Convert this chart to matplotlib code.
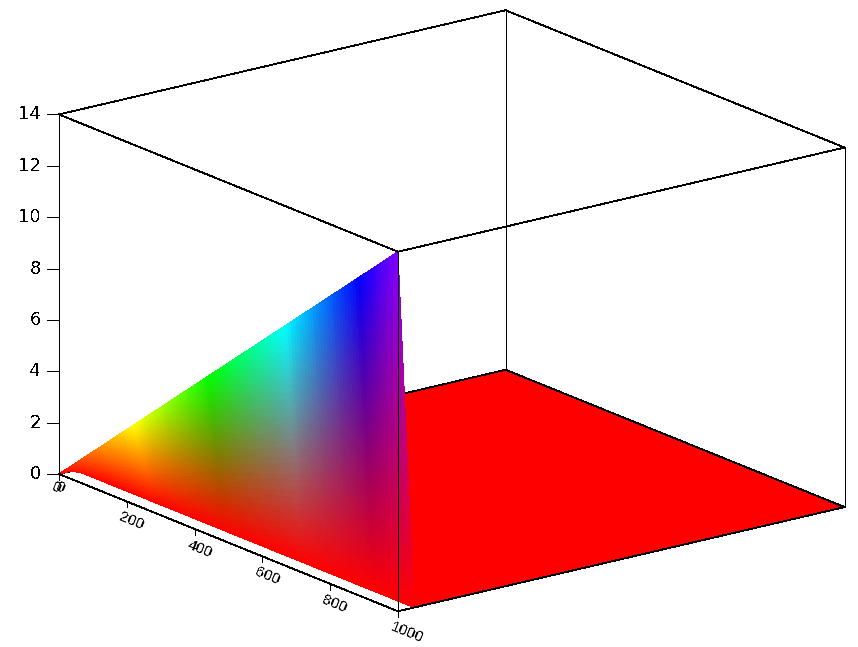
import numpy as np
import matplotlib
matplotlib.use("Agg")
import matplotlib.pyplot as plt
from matplotlib.colors import LinearSegmentedColormap, to_rgba
from matplotlib.transforms import Affine2D
from mpl_toolkits.mplot3d import proj3d

plt.rcParams["text.antialiased"] = False
plt.rcParams["lines.antialiased"] = False
plt.rcParams["axes3d.automargin"] = False

# values
wall_x = [0, 200, 400, 600, 800, 1000]
wall_z = [0, 2.8, 5.6, 8.4, 11.2, 14]
ridge_y = 36
floor_x = [0, 1000]
floor_y = [36, 1000]
floor_z = [[0, 0], [0, 0]]

x_ticks = [0, 200, 400, 600, 800, 1000]
z_ticks = [0, 2, 4, 6, 8, 10, 12, 14]
y_tick_labels = ["0"]

XMAX, YMAX, ZMAX = 1000, 1000, 14
AZIM, ELEV = -37.2, 17.9
LW = 0.6

hue = LinearSegmentedColormap.from_list(
    "hue",
    [(0, "#ff0000"), (2 / 9, "#ffff00"), (4 / 9, "#00ff00"),
     (6 / 9, "#00ffff"), (8 / 9, "#0000ff"), (1, "#8000ff")],
)


def shift(right, down):
    # screen pixels -> data offsets, for the ticks
    a = np.radians(AZIM)
    return (-np.sin(a) * right / 0.561, np.cos(a) * right / 0.561, -down / 25.7)


def label(x, y, z, s, right, down, **kw):
    # plain 2D text pinned to a projected 3D point, offset in pixels
    px, py, _ = proj3d.proj_transform(x, y, z, ax.get_proj())
    tr = ax.transData + Affine2D().translate(right, -down)
    fig.text(px, py, s, transform=tr, va="center", zorder=4, **kw)


fig = plt.figure(figsize=(8.58, 6.47), dpi=100)
ax = fig.add_axes([14 / 858, 4 / 647, 1, 1], projection="3d", computed_zorder=False)
ax.set_proj_type("ortho")
ax.set_axis_off()
ax.set_xlim(0, XMAX)
ax.set_ylim(0, YMAX)
ax.set_zlim(0, ZMAX)
ax.set_box_aspect((561, 561, 378), zoom=1.318)
ax.view_init(elev=ELEV, azim=AZIM)

# flat red floor
FX, FY = np.meshgrid(floor_x, floor_y)
ax.plot_surface(FX, FY, np.array(floor_z), color="#ff0000", shade=False,
                linewidth=0, antialiased=False, zorder=1, clip_on=False)

# back edges sit between floor and wedge
back = [
    ([0, 0], [0, YMAX], [0, 0]),
    ([0, 0], [YMAX, YMAX], [0, ZMAX]),
    ([XMAX, 0], [YMAX, YMAX], [0, 0]),
    ([XMAX, XMAX], [YMAX, YMAX], [0, ZMAX]),
]
for xs, ys, zs in back:
    ax.plot(xs, ys, zs, color="black", lw=LW, zorder=1.5, clip_on=False)

# steep wedge from the ridge at y=0 down to the floor, subdivided only for the shading
cols = np.linspace(wall_x[0], wall_x[-1], 121)
rows = np.linspace(0, 1, 41)
C, S = np.meshgrid(cols, rows)
top = np.interp(C, wall_x, wall_z)
WY = ridge_y * S
WZ = top * (1 - S)
mid_c = (C[:-1, :-1] + C[1:, 1:]) / 2
mid_s = (S[:-1, :-1] + S[1:, 1:]) / 2
top_rgba = hue(np.interp(mid_c, wall_x, wall_z) / ZMAX)
red = np.array(to_rgba("#ff0000"))
face = top_rgba * (1 - mid_s[..., None]) + red * mid_s[..., None]
ax.plot_surface(C, WY, WZ, facecolors=face, rstride=1, cstride=1, shade=False,
                linewidth=0, antialiased=False, zorder=2, clip_on=False)

# front and top edges
front = [
    ([0, XMAX], [0, 0], [0, 0]),
    ([XMAX, XMAX], [0, YMAX], [0, 0]),
    ([0, 0], [0, 0], [0, ZMAX]),
    ([XMAX, XMAX], [0, 0], [0, ZMAX]),
    ([0, XMAX], [0, 0], [ZMAX, ZMAX]),
    ([XMAX, XMAX], [0, YMAX], [ZMAX, ZMAX]),
    ([XMAX, 0], [YMAX, YMAX], [ZMAX, ZMAX]),
    ([0, 0], [YMAX, 0], [ZMAX, ZMAX]),
]
for xs, ys, zs in front:
    ax.plot(xs, ys, zs, color="black", lw=LW, zorder=3, clip_on=False)

# x ticks and labels
for t in x_ticks:
    dx, dy, dz = shift(0, 6)
    ax.plot([t, t], [0, 0], [0, dz], color="black", lw=LW, zorder=3, clip_on=False)
    if t == x_ticks[0]:
        right, down = 2, 14
    elif t == x_ticks[-1]:
        right, down = 9, 21
    else:
        right, down = 5, 20
    label(t, 0, 0, str(t), right, down, family="Liberation Sans", fontsize=11,
          rotation=-22, rotation_mode="anchor", ha="center")

# the y axis only keeps its first label, right on top of the x one
for lab in y_tick_labels:
    label(0, 0, 0, lab, -2, 14, family="Liberation Sans", fontsize=11,
          rotation=-22, rotation_mode="anchor", ha="center")

# z ticks and labels
for t in z_ticks:
    dx, dy, dz = shift(-12, 0)
    ax.plot([0, dx], [0, dy], [t, t], color="black", lw=LW, zorder=3, clip_on=False)
    label(0, 0, t, str(t), -18, 0, family="DejaVu Sans", fontsize=13, ha="right")

fig.savefig("out.png", dpi=100)
